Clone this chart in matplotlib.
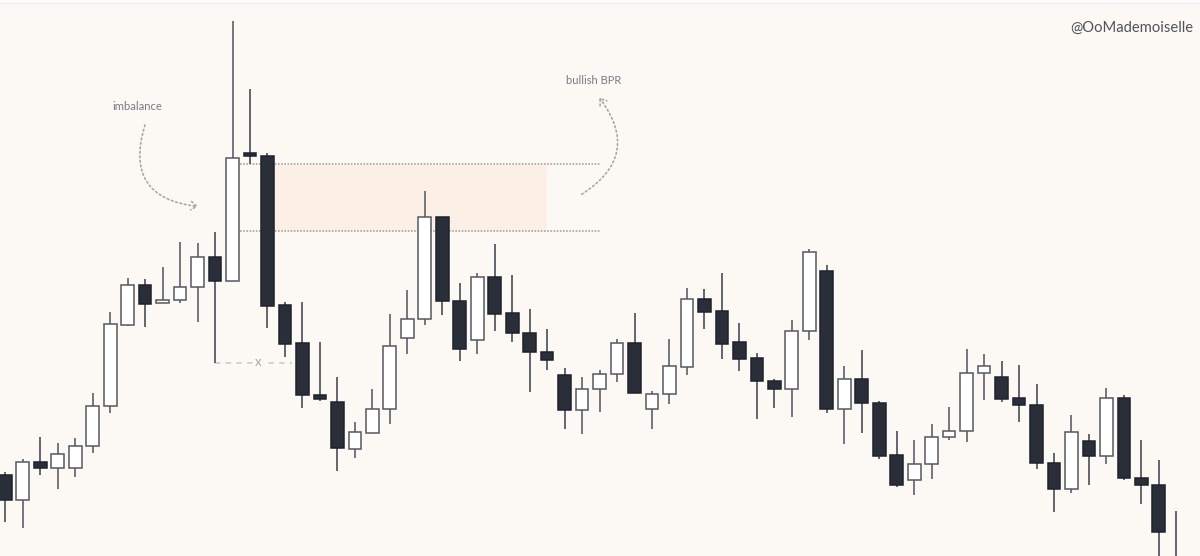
import numpy as np
import matplotlib
matplotlib.use("Agg")
import matplotlib.pyplot as plt
from matplotlib.patches import FancyArrowPatch

#Candle values, in the picture's own vertical units (0 at top, 556 at bottom)
wick_top = [472, 459, 436.7, 443.3, 438.3, 392.7, 311.7, 278.3, 279, 267.3, 242, 243.3, 232.3, 21, 89.3, 153.3, 301.7,
            302.3, 342.3, 377.3, 422.3, 389, 314.3, 290, 191, 216.7, 282.7, 272.7, 244, 275, 309.3, 329, 367.7, 376.7,
            370, 339, 313.3, 391, 339, 287.7, 289.3, 273.3, 322.7, 352.7, 379, 320, 248.7, 265.3, 366.3, 349.7, 400.7,
            431, 440.3, 424.3, 407, 349.3, 354, 361.3, 365, 383.7, 453.3, 415, 434, 388.3, 394.7, 440.3, 460.3, 511.3]
body_top = [475.3, 462.3, 462.3, 454.3, 445.7, 405.7, 324.3, 285, 285, 300.3, 287.3, 256.7, 256.7, 158.3, 153.3, 155.7, 305.3,
            343.3, 394.7, 402, 432.3, 409.3, 346, 319.3, 216.7, 216.7, 301, 277, 277, 313.3, 333.3, 352, 375.3, 389,
            373.7, 343.3, 343.3, 394, 366.3, 299, 299, 311, 342.3, 358.3, 381.3, 330.7, 252.3, 270.7, 378.7, 379, 403,
            455.3, 463.7, 437, 431.3, 373, 365.7, 376.7, 398.3, 405, 463.3, 432.3, 441.3, 397.7, 397.7, 477.7, 485, 575]
body_bottom = [500.3, 500.3, 468.3, 468.3, 468.3, 445.7, 405.7, 324.7, 304, 302.7, 300.3, 287.3, 280.7, 280.7, 155.7, 305.7, 343.5,
               395, 398.7, 448.3, 448.7, 433, 409.3, 338.3, 319.3, 301, 348.7, 339.7, 313.7, 333.3, 352, 359.7, 409.7, 409.7,
               389.3, 374, 392.7, 409, 394.3, 366.7, 311.7, 343.7, 358.7, 381.3, 389, 389.3, 331, 408.7, 409, 403, 455.7,
               485, 480, 464, 437.3, 431.3, 373.3, 398.7, 405.3, 463.3, 488.7, 488.7, 456, 456, 477.7, 485, 531.7, 610]
wick_bottom = [522.3, 528, 475, 489.3, 477, 452.7, 413.3, 325.7, 326.7, 303.3, 302.7, 321.7, 363.3, 280.7, 164.3, 327.7, 356.7,
               408.3, 400.7, 470.7, 458.3, 433, 424.3, 354.3, 324.7, 315.3, 361, 353.7, 330.7, 341.7, 391.7, 370, 429.3, 434.3,
               412, 382.3, 392.7, 428.7, 404, 375, 329, 358.7, 371, 419, 408.3, 416.7, 340, 413.3, 444, 432.7, 459,
               487.3, 494.7, 478.7, 440.3, 441.7, 400.3, 402.3, 422, 469.3, 512.3, 493.3, 484.7, 464.3, 479.7, 504, 570, 625]
#1 white (up), 0 dark (down)
is_up = [0, 1, 0, 1, 1, 1, 1, 1, 0, 1, 1, 1, 0, 1, 0, 0, 0,
         0, 0, 0, 1, 1, 1, 1, 1, 0, 0, 1, 0, 0, 0, 0, 0, 1,
         1, 1, 0, 1, 1, 1, 0, 0, 0, 0, 0, 1, 1, 0, 1, 0, 0,
         0, 1, 1, 1, 1, 1, 0, 0, 0, 0, 1, 0, 1, 0, 0, 0, 0]

first_x = 5.3
step_x = 17.478
candle_w = 12.7

bg_col = "#FCF8F3"
zone_col = "#FCEFE5"
dark_col = "#2A2E39"
grey_txt = "#787B86"

plt.rcParams['font.family'] = ['Lato', 'DejaVu Sans']

fig = plt.figure(figsize=(12, 5.56), dpi=100, facecolor=bg_col)
ax = fig.add_axes([0, 0, 1, 1])
ax.set_xlim(0, 1200)
ax.set_ylim(556, 0)
ax.axis('off')

#thin strip at the very top of the screenshot
ax.axhspan(0, 2.5, color="#FBFBFB", lw=0)
ax.axhline(3, color="#F0EFED", lw=0.8)

#BPR zone and its dotted edges
ax.fill_between([267, 547], 164.5, 230.7, color=zone_col, lw=0, zorder=1)
for level in [164.3, 230.8]:
    ax.plot([240, 600], [level, level], color="#A5A5A9", lw=1.2, ls=(0, (1, 0.9)), zorder=1.5)

#dashed x level
ax.plot([215, 292], [363, 363], color="#C8C8C8", lw=1.1, ls=(0, (3.5, 3.5)), zorder=1.5)
ax.text(258, 361.5, "x", color="#A8A8A8", fontsize=9.5, ha='center', va='center',
        bbox=dict(facecolor=bg_col, edgecolor='none', pad=1.2), zorder=1.6)

xs = first_x + step_x * np.arange(len(is_up))
up = np.array(is_up, dtype=bool)
top = np.array(body_top)
bottom = np.array(body_bottom)
w_top = np.array(wick_top)
w_bottom = np.array(wick_bottom)

ax.vlines(xs[up], w_bottom[up], w_top[up], color="#50535E", lw=1.1, zorder=2)
ax.vlines(xs[~up], w_bottom[~up], w_top[~up], color="#3A3E49", lw=1.1, zorder=2)
ax.bar(xs[up], (bottom - top)[up], bottom=top[up], width=candle_w, color="white",
       edgecolor="#555862", linewidth=1.1, zorder=3)
ax.bar(xs[~up], (bottom - top)[~up], bottom=top[~up], width=candle_w, color=dark_col,
       edgecolor="#1E222D", linewidth=1.1, zorder=3)

#curved arrows
arrow_style = dict(arrowstyle="->,head_length=4,head_width=3", color="#A8A8AC", lw=1.2,
                   linestyle=(0, (1, 1.7)), shrinkA=0, shrinkB=0, zorder=4)
ax.add_patch(FancyArrowPatch((145, 125), (198, 206.5), connectionstyle="arc3,rad=0.6", **arrow_style))
ax.add_patch(FancyArrowPatch((581.7, 194.3), (599.3, 97.7), connectionstyle="arc3,rad=0.54", **arrow_style))

ax.text(137.5, 106, "imbalance", color=grey_txt, fontsize=8.1, ha='center', va='center')
ax.text(594, 80, "bullish BPR", color=grey_txt, fontsize=8, ha='center', va='center')
ax.text(1193, 28, "@OoMademoiselle", color="#50535E", fontsize=10.6, ha='right', va='center')

fig.savefig("out.png", dpi=100, facecolor=bg_col)
